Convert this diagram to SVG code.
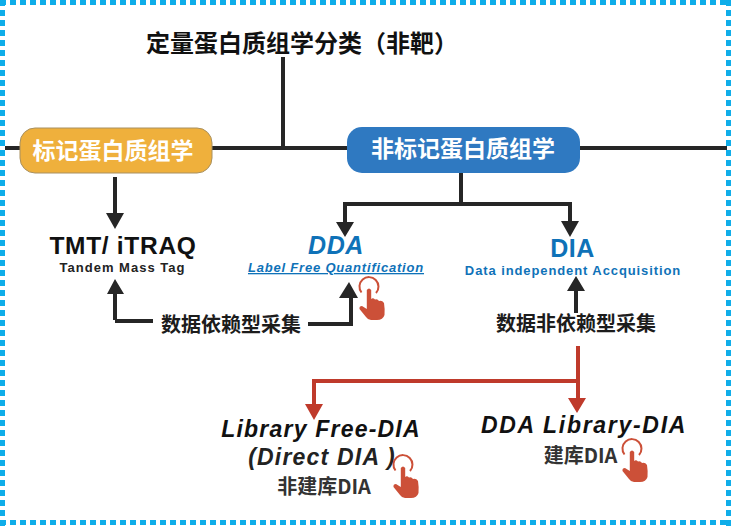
<svg xmlns="http://www.w3.org/2000/svg" width="731" height="526" viewBox="0 0 731 526">
<style>
text{font-family:"Liberation Sans","Noto Sans CJK SC",sans-serif;text-anchor:middle;font-weight:700}
.cjk{font-family:"Noto Sans CJK SC","Liberation Sans",sans-serif}
.k{fill:none;stroke:#262626;stroke-width:4}
.r{fill:none;stroke:#bf3a2b;stroke-width:4}
.hk{fill:#262626}.hr{fill:#bf3a2b}
.b{fill:none;stroke:#0fade9;stroke-width:5;stroke-dasharray:6 4}
.blue{fill:#0f72b8}
</style>
<defs>
<g id="hand">
<path d="M-7.500 5.500A9.500 9.500 0 1 1 7 6" fill="none" stroke="#cc5038" stroke-width="2"/>
<path d="M-2.200 3Q0 0 2.200 3V12Q4 10.500 6 12.500Q8.500 11.500 10 14Q13 13 15 16Q16 22 15.500 28Q14 33 8 33H2Q-1 33 -3 30L-9.500 22Q-10 19 -7 19L-2.200 22Z" fill="#cc5038"/>
</g>
</defs>
<path class="b" d="M0 2.500H731M0 522.500H731M2.500 0V526M728.500 0V526"/>
<g id="connectors">
<path class="k" d="M5 148H727M283 57V148M115 177V218M461 173V204M345 204H570M345 202V226M570 202V226M115 320V290M115 321H153M308 324H351V294M576 313V288"/>
<path class="hk" d="M106 213L124 213L115 229ZM336 222H354L345 237ZM561 221H579L570 237ZM107 294L115 279L124 294ZM339 298L349 282L358 298ZM567 291L576 276L585 291Z"/>
<path class="r" d="M578 346V400M314 381H578M314 379V405"/>
<path class="hr" d="M305 404H323L314 420ZM568 398H586L577 413Z"/>
</g>
<g id="title"><text class="cjk" x="302" y="52" font-size="24" fill="#111">定量蛋白质组学分类（非靶）</text></g>
<g id="labeled">
<rect x="20" y="128" width="192" height="45" rx="15" fill="#efb03c" stroke="#a89060"/>
<text class="cjk" x="113" y="159" font-size="23" fill="#fff">标记蛋白质组学</text>
</g>
<g id="labelfree">
<rect x="347" y="127" width="233" height="46" rx="15" fill="#2f79c1"/>
<text class="cjk" x="463" y="157" font-size="23" fill="#fff">非标记蛋白质组学</text>
</g>
<g id="tmt">
<text x="123" y="254" font-size="24.500" fill="#111" style="letter-spacing:.7px">TMT/ iTRAQ</text>
<text x="122.500" y="272" font-size="13" fill="#222" style="letter-spacing:1px">Tandem Mass Tag</text>
</g>
<g id="dda">
<text x="336" y="254" font-size="25" font-style="italic" class="blue" style="letter-spacing:.6px">DDA</text>
<text x="336" y="272" font-size="13" font-style="italic" class="blue" text-decoration="underline" style="letter-spacing:.8px">Label Free Quantification</text>
<use href="#hand" x="369" y="287"/>
</g>
<g id="dia">
<text x="572.500" y="257" font-size="25" class="blue" style="letter-spacing:.4px">DIA</text>
<text x="573" y="275" font-size="13" class="blue" style="letter-spacing:.9px">Data independent Accquisition</text>
</g>
<g id="dep"><text class="cjk" x="231" y="332" font-size="20" fill="#1c1c1c">数据依赖型采集</text></g>
<g id="indep"><text class="cjk" x="576" y="331" font-size="20" fill="#1c1c1c">数据非依赖型采集</text></g>
<g id="libfree">
<text x="321" y="437" font-size="23" font-style="italic" fill="#111" style="letter-spacing:1.200px">Library Free-DIA</text>
<text x="322" y="465" font-size="23" font-style="italic" fill="#222" style="letter-spacing:1.200px">(Direct DIA )</text>
<text class="cjk" x="324" y="494" font-size="20" fill="#333">非建库DIA</text>
<use href="#hand" x="403" y="465"/>
</g>
<g id="ddalib">
<text x="584" y="433" font-size="23" font-style="italic" fill="#111" style="letter-spacing:1.700px">DDA Library-DIA</text>
<text class="cjk" x="580.500" y="463" font-size="20" fill="#333">建库DIA</text>
<use href="#hand" x="632" y="449"/>
</g>
</svg>
